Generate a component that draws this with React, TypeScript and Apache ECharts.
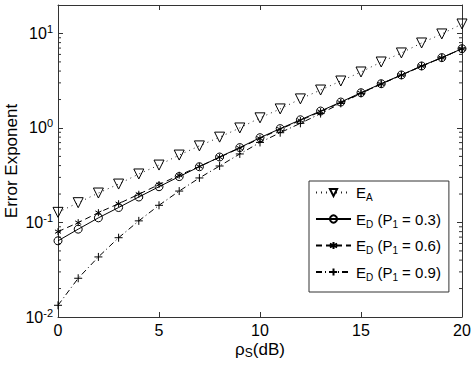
import React, { useEffect, useRef } from 'react';
import * as echarts from 'echarts';

const snrDb = [0, 1, 2, 3, 4, 5, 6, 7, 8, 9, 10, 11, 12, 13, 14, 15, 16, 17, 18, 19, 20];
const eA = [0.128, 0.162, 0.205, 0.255, 0.326, 0.405, 0.517, 0.646, 0.8, 1.0, 1.28, 1.59, 2.03, 2.52, 3.14, 3.91, 4.99, 6.22, 7.93, 9.88, 12.6];
const eD03 = [0.064, 0.085, 0.112, 0.144, 0.186, 0.239, 0.306, 0.389, 0.493, 0.62, 0.789, 0.984, 1.22, 1.51, 1.88, 2.36, 2.94, 3.64, 4.53, 5.55, 6.9];
const eD06 = [0.08, 0.0996, 0.127, 0.158, 0.199, 0.252, 0.316, 0.392, 0.49, 0.612, 0.775, 0.97, 1.2, 1.49, 1.86, 2.34, 2.92, 3.62, 4.51, 5.53, 6.88];
const eD09 = [0.0133, 0.0257, 0.0432, 0.069, 0.104, 0.152, 0.215, 0.296, 0.396, 0.531, 0.703, 0.891, 1.12, 1.42, 1.82, 2.32, 2.92, 3.62, 4.51, 5.53, 6.88];
const minorTickValues = [0.02, 0.03, 0.04, 0.05, 0.06, 0.07, 0.08, 0.09, 0.2, 0.3, 0.4, 0.5, 0.6, 0.7, 0.8, 0.9, 2, 3, 4, 5, 6, 7, 8, 9];
const seriesNames = ['E_A', 'E_D (P_1 = 0.3)', 'E_D (P_1 = 0.6)', 'E_D (P_1 = 0.9)'];
const legendTexts = [
  '{m|E}{s|A}',
  '{m|E}{s|D}{m| (P}{s|1}{m| = 0.3)}',
  '{m|E}{s|D}{m| (P}{s|1}{m| = 0.6)}',
  '{m|E}{s|D}{m| (P}{s|1}{m| = 0.9)}',
];

const FONT = '"Liberation Sans", Arial, Helvetica, sans-serif';
const AXIS = '#333';
const INK = '#000';

const ASTERISK = 'path://M5,0L5,10M0.67,2.5L9.33,7.5M0.67,7.5L9.33,2.5';
const PLUS = 'path://M5,0L5,10M0,5L10,5';

export default function App() {
  const ref = useRef<HTMLDivElement>(null);
  useEffect(() => {
    const chart = echarts.init(ref.current!, null, { renderer: 'svg' });
    const legendRich = {
      m: { fontSize: 15, lineHeight: 20, fontFamily: FONT, color: INK },
      s: { fontSize: 10, lineHeight: 10, verticalAlign: 'bottom', fontFamily: FONT, color: INK },
    };
    const nameRich = {
      m: { fontSize: 17, lineHeight: 20, fontFamily: FONT, color: INK },
      s: { fontSize: 12, lineHeight: 10, verticalAlign: 'bottom', fontFamily: FONT, color: INK },
    };
    const mk = (vals: number[]) => snrDb.map((x, i) => [x, vals[i]]);
    const markerStyle = { color: 'rgba(0,0,0,0)', borderColor: INK, borderWidth: 1 };
    const option: any = {
      animation: false,
      backgroundColor: '#fff',
      grid: { left: 58, right: 12, top: 5, bottom: 48, outerBoundsMode: 'none', containLabel: false },
      legend: {
        data: seriesNames,
        orient: 'vertical',
        left: 309,
        top: 181,
        itemWidth: 35,
        itemHeight: 9,
        itemGap: 9,
        padding: [4, 8, 10, 6],
        backgroundColor: '#fff',
        borderColor: AXIS,
        borderWidth: 1,
        borderRadius: 0,
        formatter: (name: string) => legendTexts[seriesNames.indexOf(name)],
        textStyle: { rich: legendRich, fontFamily: FONT, fontSize: 15 },
      },
      xAxis: [
        {
          type: 'value', min: 0, max: 20, interval: 5, position: 'bottom',
          axisLine: { show: true, onZero: false, lineStyle: { color: AXIS } },
          axisTick: { inside: true, length: 5, lineStyle: { color: AXIS } },
          axisLabel: { margin: 5, fontSize: 16, color: INK, fontFamily: FONT },
          splitLine: { show: false },
          name: '{m|ρ}{s|S}{m|(dB)}',
          nameLocation: 'middle',
          nameGap: 22,
          nameMoveOverlap: false,
          nameTextStyle: { rich: nameRich },
        },
        {
          type: 'value', min: 0, max: 20, interval: 5, position: 'top',
          axisLine: { show: true, onZero: false, lineStyle: { color: AXIS } },
          axisTick: { inside: true, length: 5, lineStyle: { color: AXIS } },
          axisLabel: { show: false },
          splitLine: { show: false },
        },
      ],
      yAxis: [
        {
          type: 'log', logBase: 10, min: 0.01, max: 20, position: 'left',
          axisLine: { show: true, onZero: false, lineStyle: { color: AXIS } },
          axisTick: { inside: true, length: 5, lineStyle: { color: AXIS } },
          axisLabel: {
            margin: 5,
            formatter: (v: number) => {
              const e = Math.log10(v);
              const r = Math.round(e);
              if (Math.abs(e - r) > 1e-6) return '';
              return `{b|10}{e|${r}}`;
            },
            rich: {
              b: { fontSize: 16, lineHeight: 20, fontFamily: FONT, color: INK },
              e: { fontSize: 11, lineHeight: 10, verticalAlign: 'top', fontFamily: FONT, color: INK },
            },
          },
          splitLine: { show: false },
          name: 'Error Exponent',
          nameLocation: 'middle',
          nameGap: 38,
          nameMoveOverlap: false,
          nameTextStyle: { fontSize: 17, fontFamily: FONT, color: INK },
        },
        {
          type: 'log', logBase: 10, min: 0.01, max: 20, position: 'right',
          axisLine: { show: true, onZero: false, lineStyle: { color: AXIS } },
          axisTick: { inside: true, length: 5, lineStyle: { color: AXIS } },
          axisLabel: { show: false },
          splitLine: { show: false },
        },
      ],
      series: [
        {
          type: 'custom',
          name: 'minorTicks',
          silent: true,
          xAxisIndex: 0,
          yAxisIndex: 0,
          data: minorTickValues.map((v) => [0, v]),
          renderItem: (_params: any, api: any) => {
            const v = api.value(1);
            const l = api.coord([0, v]);
            const r = api.coord([20, v]);
            return {
              type: 'group',
              children: [
                { type: 'line', shape: { x1: l[0], y1: l[1], x2: l[0] + 3, y2: l[1] }, style: { stroke: AXIS, lineWidth: 1 } },
                { type: 'line', shape: { x1: r[0] - 3, y1: r[1], x2: r[0], y2: r[1] }, style: { stroke: AXIS, lineWidth: 1 } },
              ],
            };
          },
        },
        {
          type: 'line', name: seriesNames[0], data: mk(eA),
          symbol: 'triangle', symbolRotate: 180, symbolSize: 10,
          itemStyle: markerStyle,
          lineStyle: { color: '#222', width: 1, type: [1, 4] },
        },
        {
          type: 'line', name: seriesNames[1], data: mk(eD03),
          symbol: 'circle', symbolSize: 8,
          itemStyle: markerStyle,
          lineStyle: { color: INK, width: 1, type: 'solid' },
        },
        {
          type: 'line', name: seriesNames[2], data: mk(eD06),
          symbol: ASTERISK, symbolSize: 7, symbolKeepAspect: true,
          itemStyle: markerStyle,
          lineStyle: { color: INK, width: 1, type: [6, 4] },
        },
        {
          type: 'line', name: seriesNames[3], data: mk(eD09),
          symbol: PLUS, symbolSize: 8, symbolKeepAspect: true,
          itemStyle: markerStyle,
          lineStyle: { color: INK, width: 1, type: [6, 3, 1, 3] },
        },
      ],
    };
    chart.setOption(option);
    return () => chart.dispose();
  }, []);
  return <div ref={ref} style={{ position: 'fixed', left: 0, top: 0, width: 474, height: 365 }} />;
}
